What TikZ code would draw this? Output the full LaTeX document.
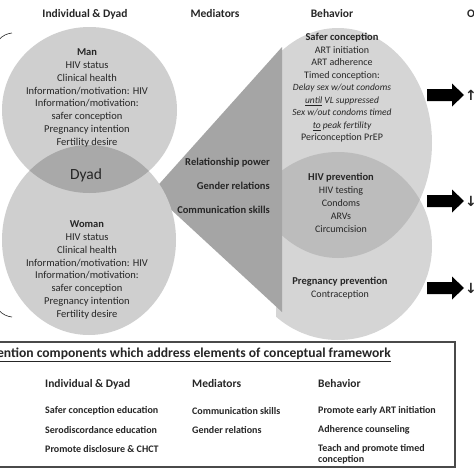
\documentclass[tikz,border=0pt]{standalone}
\usepackage{fontspec}
\setmainfont{Carlito}
\newfontfamily\symfont{DejaVu Sans}
\definecolor{txt}{HTML}{262626}
\definecolor{circ}{HTML}{CFCFCF}
\definecolor{dyadlens}{HTML}{A9A9A9}
\definecolor{tri}{HTML}{A5A5A5}
\definecolor{beh}{HTML}{D5D5D5}
\definecolor{behlens}{HTML}{BCBCBC}
\definecolor{boxline}{HTML}{4A4A4A}
\tikzset{
  lbl/.style={inner sep=0pt, text=txt, align=center, font=\fontsize{10.5}{12.86}\selectfont},
  head/.style={inner sep=0pt, text=txt, font=\fontsize{11.5}{13}\selectfont\bfseries},
  boxitem/.style={inner sep=0pt, text=txt, anchor=west, align=left, font=\fontsize{10}{10.5}\selectfont\bfseries},
  blockarrow/.style={fill=black},
}
\begin{document}
\begin{tikzpicture}[x=1pt,y=-1pt]
\useasboundingbox (0,0) rectangle (474,474);
\clip (0,0) rectangle (474,474);
\fill[white] (0,0) rectangle (474,474);

% behavior circles
\begin{scope}
  \clip (276,0) rectangle (474,474);
  \fill[beh] (338,143) ellipse [x radius=94pt, y radius=115pt];
  \fill[beh] (338,246) circle [radius=94pt];
  \begin{scope}
    \clip (338,143) ellipse [x radius=94pt, y radius=115pt];
    \fill[behlens] (338,246) circle [radius=94pt];
  \end{scope}
\end{scope}

% mediators triangle
\fill[tri] (282,47) -- (282,312) -- (152,192) -- cycle;

% man and woman circles with dyad lens
\fill[circ] (89.5,110) ellipse [x radius=87.5pt, y radius=83pt];
\fill[circ] (89,240) ellipse [x radius=87pt, y radius=95pt];
\begin{scope}
  \clip (89.5,110) ellipse [x radius=87.5pt, y radius=83pt];
  \fill[dyadlens] (89,240) ellipse [x radius=87pt, y radius=95pt];
\end{scope}

% left brace ends
\draw[txt, line width=0.6pt] (12,33) .. controls (3,34) and (-6,40) .. (-10,60);
\draw[txt, line width=0.6pt] (12,317) .. controls (3,316) and (-6,310) .. (-10,290);

% column headers
\node[head] (hind) at (85,14) {Individual \& Dyad};
\node[head] (hmed) at (215,14) {Mediators};
\node[head] (hbeh) at (332,14) {Behavior};
\node[head, anchor=west] (hout) at (467,14) {Outcomes};

% man
\node[lbl] (man) at (87,98) {\textbf{Man}\\HIV status\\Clinical health\\Information/motivation: HIV\\Information/motivation:\\safer conception\\Pregnancy intention\\Fertility desire};
% dyad
\node[inner sep=0pt, text=txt, font=\fontsize{15.5}{16}\selectfont] (dyad) at (86,175) {Dyad};
% woman
\node[lbl] (woman) at (87,270) {\textbf{Woman}\\HIV status\\Clinical health\\Information/motivation: HIV\\Information/motivation:\\safer conception\\Pregnancy intention\\Fertility desire};

% mediators
\node[inner sep=0pt, text=txt, align=right, anchor=east, font=\fontsize{10.5}{24}\selectfont\bfseries] (med) at (270,186)
  {Relationship power\\Gender relations\\Communication skills};

% behavior
\node[lbl, font=\fontsize{10}{12.5}\selectfont] (safer) at (342,88)
  {\textbf{\fontsize{10.5}{12.5}\selectfont Safer conception}\\ART initiation\\ART adherence\\Timed conception:\\
   {\itshape\fontsize{9.5}{12.5}\selectfont Delay sex w/out condoms}\\
   {\itshape\fontsize{9.5}{12.5}\selectfont \underline{until} VL suppressed}\\
   {\itshape\fontsize{9.5}{12.5}\selectfont Sex w/out condoms timed}\\
   {\itshape\fontsize{9.5}{12.5}\selectfont \underline{to} peak fertility}\\
   Periconception PrEP};
\node[lbl, font=\fontsize{10}{13}\selectfont] (hivprev) at (341,203)
  {\textbf{\fontsize{10.5}{13}\selectfont HIV prevention}\\HIV testing\\Condoms\\ARVs\\Circumcision};
\node[lbl, font=\fontsize{10}{13}\selectfont] (pregprev) at (340,288.5)
  {\textbf{\fontsize{10.5}{13}\selectfont Pregnancy prevention}\\Contraception};

% outcome arrows
\foreach \c/\g in {95/↑,201/↓,288/↓}{
  \fill[blockarrow] (427,\c-6) -- (452,\c-6) -- (452,\c-11.5) -- (464,\c) -- (452,\c+11.5) -- (452,\c+6) -- (427,\c+6) -- cycle;
  \node[inner sep=0pt, anchor=west, text=txt, font=\symfont\fontsize{14}{14}\selectfont\bfseries] at (465,\c) {\g};
}

% bottom box
\draw[boxline, line width=1.2pt] (-5,342) rectangle (455,467);
\node[inner sep=0pt, text=txt, anchor=east, font=\fontsize{13.6}{15}\selectfont\bfseries] (title) at (391,355)
  {\underline{Intervention components which address elements of conceptual framework}};

\node[head, anchor=west] (bind) at (45,384) {Individual \& Dyad};
\node[head, anchor=west] (bmed) at (192,384) {Mediators};
\node[head, anchor=west] (bbeh) at (318,384) {Behavior};

\node[boxitem] (i1) at (45,410.7) {Safer conception education};
\node[boxitem] (i2) at (45,430) {Serodiscordance education};
\node[boxitem] (i3) at (45,449.3) {Promote disclosure \& CHCT};
\node[boxitem] (m1) at (192,410.7) {Communication skills};
\node[boxitem] (m2) at (192,430) {Gender relations};
\node[boxitem] (b1) at (318,410.7) {Promote early ART initiation};
\node[boxitem] (b2) at (318,430) {Adherence counseling};
\node[boxitem, anchor=north west] (b3) at (318,444.5) {Teach and promote timed\\conception};
\end{tikzpicture}
\end{document}
